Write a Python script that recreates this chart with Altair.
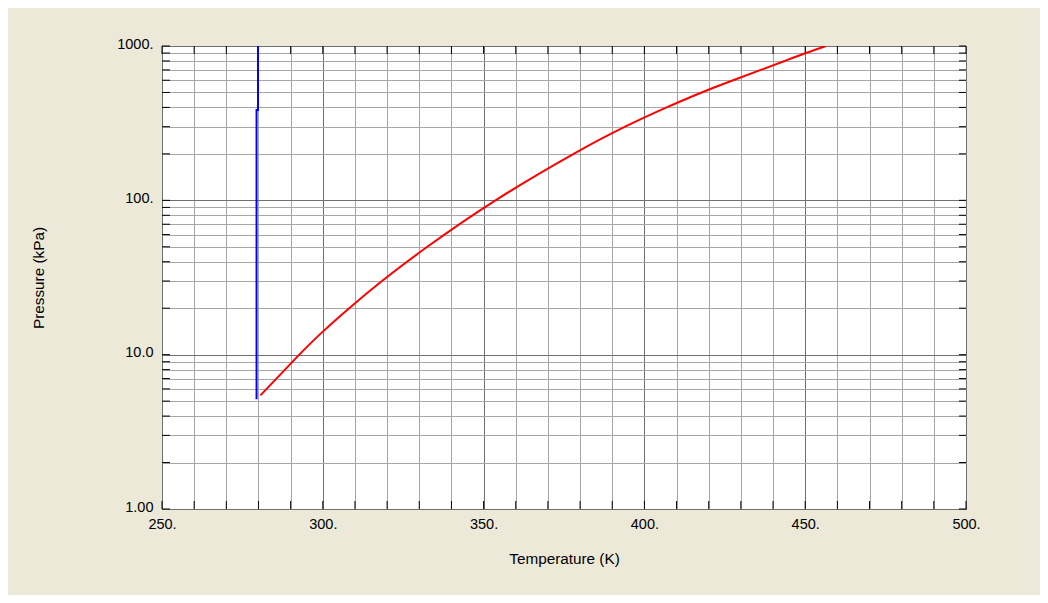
import altair as alt
import pandas as pd

# Vapour-pressure curve (red), read where the curve crosses grid lines
red_T = [280.6, 292.7, 300.0, 308.2, 318.4, 332.5, 353.7, 378.0, 394.0,
         406.9, 417.8, 427.6, 436.2, 443.6, 450.2, 456.5]
red_P = [5.45, 10, 14.1, 20, 30, 50, 100, 200, 300,
         400, 500, 600, 700, 800, 900, 1000]

# Melting line (blue)
blue_T = [279.4, 279.4, 279.85, 279.85]
blue_P = [5.14, 385, 385, 1000]

# Tick values
x_ticks = list(range(250, 501, 10))
y_ticks = [m * 10 ** e for e in range(3) for m in range(1, 10)] + [1000]
y_major = [1, 10, 100, 1000]
y_label_text = ["1.00", "10.0", "100.", "1000."]

BG = "#ECE9D8"
FONT = "Liberation Sans"
W, H = 804, 463

red_df = pd.DataFrame({"T": red_T, "P": red_P, "i": range(len(red_T))})
blue_df = pd.DataFrame({"T": blue_T, "P": blue_P, "i": range(len(blue_T))})
xt_df = pd.DataFrame({"T": x_ticks})
yt_df = pd.DataFrame({"P": y_ticks})

xscale = alt.Scale(type="linear", domain=[250, 500], nice=False, zero=False)
yscale = alt.Scale(type="log", domain=[1, 1000], nice=False)

y_expr = " : ".join(
    f"datum.value == {v} ? '{t}'" for v, t in zip(y_major, y_label_text)
) + " : ''"
y_major_test = "indexof([" + ",".join(str(v) for v in y_major) + "], datum.value) >= 0"

x_axis = alt.Axis(
    values=x_ticks,
    title="Temperature (K)",
    grid=True,
    gridColor={"condition": {"test": "datum.value % 50 === 0", "value": "#707070"},
               "value": "#a6a6a6"},
    gridWidth=1,
    domain=False,
    ticks=False,
    tickSize=0,
    labelExpr="datum.value % 50 === 0 ? datum.value + '.' : ''",
    labelFont=FONT,
    labelFontSize=14.5,
    labelColor="#000000",
    labelPadding=8,
    labelBaseline="top",
    labelFlush=False,
    labelOverlap=False,
    titleFont=FONT,
    titleFontSize=15.3,
    titleFontWeight="normal",
    titleColor="#000000",
    titleX=W / 2,
    titleY=54,
    titleAlign="center",
    titleBaseline="alphabetic",
)

y_axis = alt.Axis(
    values=y_ticks,
    title="Pressure (kPa)",
    grid=True,
    gridColor={"condition": {"test": y_major_test, "value": "#707070"},
               "value": "#a6a6a6"},
    gridWidth=1,
    domain=False,
    ticks=False,
    tickSize=0,
    labelExpr=y_expr,
    labelFont=FONT,
    labelFontSize=14.5,
    labelColor="#000000",
    labelPadding=9,
    labelBaseline="alphabetic",
    labelOffset=2,
    labelFlush=False,
    labelOverlap=False,
    titleFont=FONT,
    titleFontSize=15.3,
    titleFontWeight="normal",
    titleColor="#000000",
    titleAngle=270,
    titleX=-119,
    titleY=H / 2,
    titleAlign="center",
    titleBaseline="alphabetic",
)

X = lambda: alt.X("T:Q", scale=xscale, axis=x_axis)
Y = lambda: alt.Y("P:Q", scale=yscale, axis=y_axis)

bottom_ticks = alt.Chart(xt_df).mark_rule(color="#000000", strokeWidth=1).encode(
    x=X(), y=alt.value(H), y2=alt.value(H - 8)
)
top_ticks = alt.Chart(xt_df).mark_rule(color="#000000", strokeWidth=1).encode(
    x=X(), y=alt.value(0), y2=alt.value(8)
)
left_ticks = alt.Chart(yt_df).mark_rule(color="#000000", strokeWidth=1).encode(
    y=Y(), x=alt.value(0), x2=alt.value(8)
)
right_ticks = alt.Chart(yt_df).mark_rule(color="#000000", strokeWidth=1).encode(
    y=Y(), x=alt.value(W), x2=alt.value(W - 7)
)

blue = alt.Chart(blue_df).mark_line(color="#0000FF", strokeWidth=2, clip=True).encode(
    x=X(), y=Y(), order="i:Q"
)
red = alt.Chart(red_df).mark_line(color="#FF0000", strokeWidth=2, clip=True,
                                  interpolate="natural").encode(
    x=X(), y=Y(), order="i:Q"
)

chart = alt.layer(
    bottom_ticks, top_ticks, left_ticks, right_ticks, blue, red
).properties(
    width=W,
    height=H,
    background=BG,
    padding={"left": 154, "top": 38, "right": 74, "bottom": 86},
    autosize=alt.AutoSizeParams(type="none"),
).configure_view(
    stroke="#000000", strokeWidth=1, fill="#FFFFFF"
)

chart.save("out.html", embed_options={"renderer": "svg", "actions": False})
